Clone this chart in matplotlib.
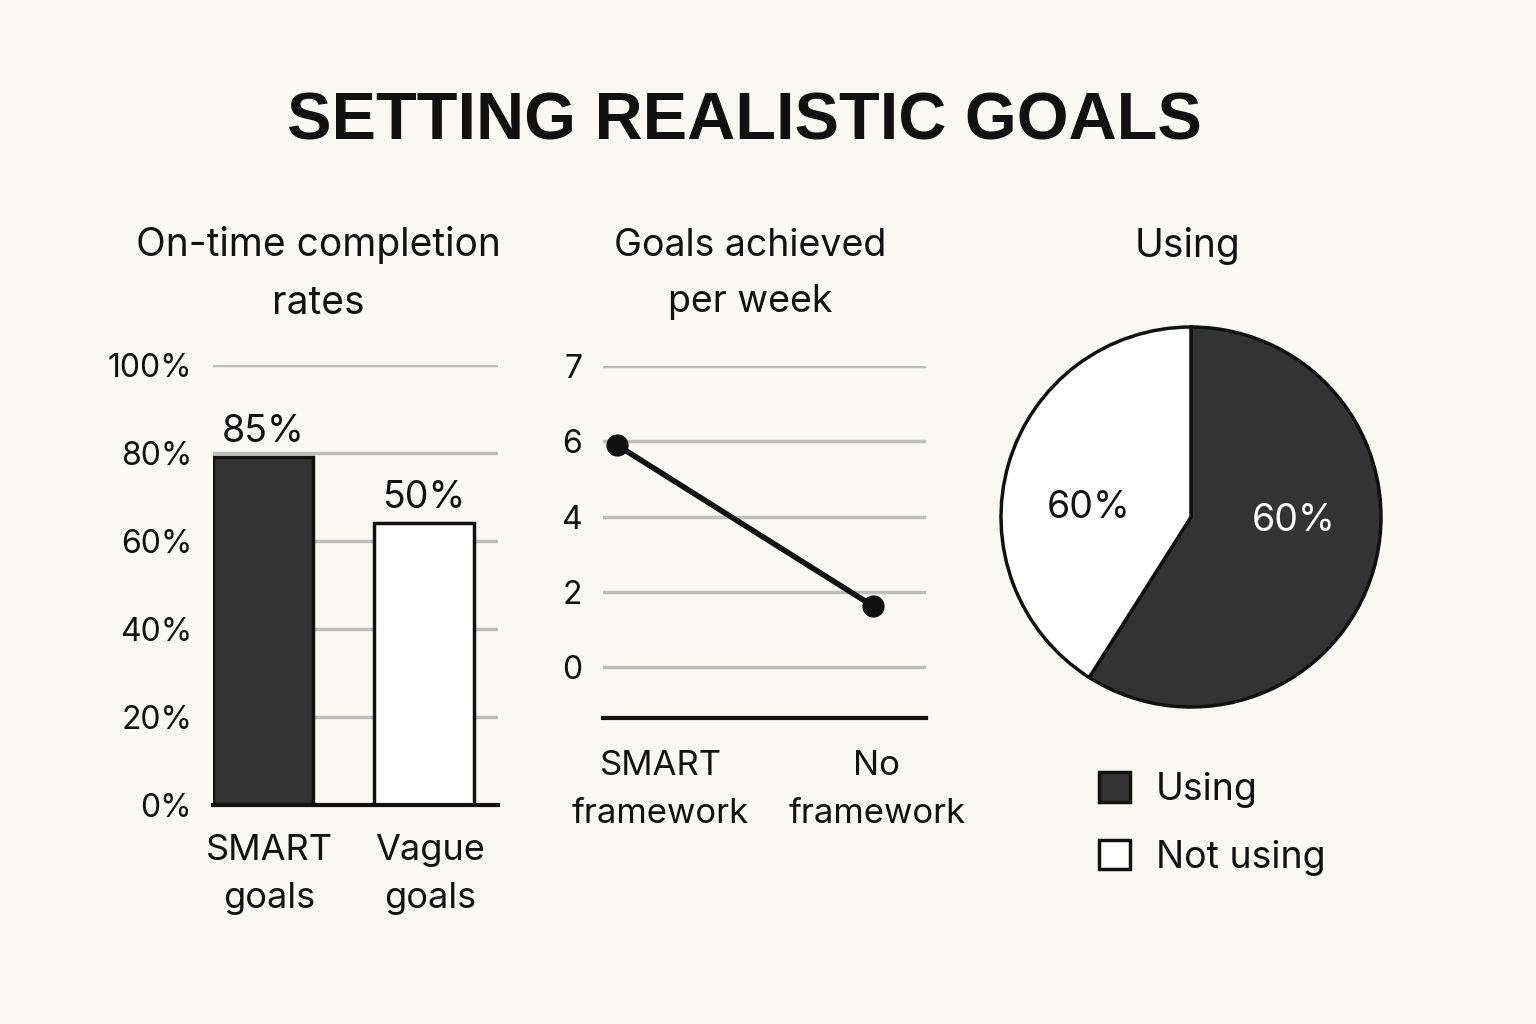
import numpy as np
import matplotlib
matplotlib.use("Agg")
import matplotlib.pyplot as plt
from matplotlib.patches import Patch

# ---------------- data ----------------
title = "SETTING REALISTIC GOALS"

bar_title = "On-time completion\nrates"
bar_categories = ["SMART\ngoals", "Vague\ngoals"]
bar_heights = [79, 64]            # drawn heights
bar_labels = ["85%", "50%"]       # printed labels
bar_yticks = [0, 20, 40, 60, 80, 100]
bar_yticklabels = ["0%", "20%", "40%", "60%", "80%", "100%"]

line_title = "Goals achieved\nper week"
line_categories = ["SMART\nframework", "No\nframework"]
line_values = [5.9, 1.63]
line_yticks = [0, 2, 4, 6, 7]

pie_title = "Using"
pie_labels = ["Using", "Not using"]
pie_values = [59, 41]
pie_texts = ["60%", "60%"]

# ---------------- style ----------------
BG = "#faf8f4"
DARK = "#333333"
GRID = "#bdbdbd"
W, H = 1536, 1024
plt.rcParams["font.family"] = ["Inter", "DejaVu Sans"]

fig = plt.figure(figsize=(15.36, 10.24), dpi=100, facecolor=BG)

def fx(px):
    return px / W

def fy(py):
    return 1 - py / H

fig.text(fx(744), fy(123), title, ha="center", va="center", fontsize=48,
         fontweight="bold", family=["Liberation Sans", "DejaVu Sans"], color="#111111")

SUB_FS = 28
TICK_FS = 23
CAT_FS = 26
LINECAT_FS = 25
VAL_FS = 27

# ---------------- bar chart ----------------
ax1 = fig.add_axes([fx(213), fy(805), fx(498) - fx(213), fy(365) - fy(805)])
ax1.set_facecolor(BG)
x = np.arange(len(bar_categories))
ax1.set_ylim(0, 100)
ax1.set_xlim(-0.31, 1.46)
for yt in bar_yticks[1:]:
    ax1.axhline(yt, color=GRID, lw=2.5, zorder=0)
bars = ax1.bar(x, bar_heights, width=0.62, color=[DARK, "white"],
               edgecolor="#111111", linewidth=2.5, zorder=2)
for b, lab in zip(bars, bar_labels):
    ax1.annotate(lab, (b.get_x() + b.get_width() / 2, b.get_height()),
                 xytext=(0, 5), textcoords="offset points", ha="center",
                 va="bottom", fontsize=VAL_FS, color="#111111")
ax1.set_yticks(bar_yticks)
ax1.set_yticklabels(bar_yticklabels)
ax1.set_xticks(x + 0.04)
ax1.set_xticklabels(bar_categories, linespacing=1.58)
ax1.tick_params(axis="y", length=0, pad=15, labelsize=TICK_FS, labelcolor="#111111")
ax1.tick_params(axis="x", length=0, pad=21, labelsize=CAT_FS, labelcolor="#111111")
for s in ["top", "right", "left"]:
    ax1.spines[s].set_visible(False)
ax1.spines["bottom"].set_linewidth(3)
ax1.spines["bottom"].set_color("#111111")
fig.text(fx(318), fy(274), bar_title, ha="center", va="center",
         fontsize=SUB_FS, linespacing=1.7, color="#111111")

# ---------------- line chart ----------------
def fwd(v):
    v = np.asarray(v, dtype=float)
    return np.where(v <= 6, v / 2.0, 3.0 + (v - 6.0))

def inv(p):
    p = np.asarray(p, dtype=float)
    return np.where(p <= 3, p * 2.0, 6.0 + (p - 3.0))

ax2 = fig.add_axes([fx(603), fy(718), fx(926) - fx(603), fy(366) - fy(718)])
ax2.set_facecolor(BG)
ax2.set_yscale("function", functions=(fwd, inv))
ax2.set_ylim(-1.34, 7)
xl = np.arange(len(line_categories))
ax2.set_xlim(-0.055, 1.207)
for yt in line_yticks:
    ax2.axhline(yt, color=GRID, lw=2.5, zorder=0)
ax2.plot(xl, line_values, color="#111111", lw=4, marker="o", markersize=15,
         zorder=3, clip_on=False)
ax2.set_yticks(line_yticks)
ax2.set_yticklabels([str(t) for t in line_yticks])
ax2.yaxis.set_minor_locator(matplotlib.ticker.NullLocator())
ax2.set_xticks([0.17, 1.015])
ax2.set_xticklabels(line_categories, linespacing=1.64)
ax2.tick_params(axis="y", length=0, pad=15, labelsize=TICK_FS, labelcolor="#111111")
ax2.tick_params(axis="x", length=0, pad=23, labelsize=LINECAT_FS, labelcolor="#111111")
for s in ["top", "right", "left"]:
    ax2.spines[s].set_visible(False)
ax2.spines["bottom"].set_linewidth(3)
ax2.spines["bottom"].set_color("#111111")
fig.text(fx(750), fy(274), line_title, ha="center", va="center",
         fontsize=SUB_FS - 1, linespacing=1.75, color="#111111")

# ---------------- pie chart ----------------
R = 190
ax3 = fig.add_axes([fx(1191 - R), fy(517 + R), fx(2 * R), 2 * R / H])
ax3.set_facecolor(BG)
wedges, _ = ax3.pie(pie_values, colors=[DARK, "white"], startangle=90,
                    counterclock=False, radius=1,
                    wedgeprops=dict(edgecolor="#111111", linewidth=2.5))
ax3.set_xlim(-1.0, 1.0)
ax3.set_ylim(-1.0, 1.0)
ax3.axis("off")
ax3.text(0.54, -0.02, pie_texts[0], ha="center", va="center", fontsize=VAL_FS,
         color="white")
ax3.text(-0.54, 0.05, pie_texts[1], ha="center", va="center", fontsize=VAL_FS,
         color="#111111")
fig.text(fx(1188), fy(246), pie_title, ha="center", va="center",
         fontsize=SUB_FS, color="#111111")

handles = [Patch(facecolor=DARK, edgecolor="#111111", linewidth=2.5),
           Patch(facecolor="white", edgecolor="#111111", linewidth=2.5)]
leg = fig.legend(handles, pie_labels, loc="upper left",
                 bbox_to_anchor=(fx(1099), fy(772)), frameon=False,
                 fontsize=CAT_FS + 1, handlelength=0.82, handleheight=0.82,
                 handletextpad=0.7, labelspacing=0.85, borderpad=0,
                 borderaxespad=0)
for t in leg.get_texts():
    t.set_color("#111111")

fig.savefig("out.png", dpi=100, facecolor=BG)
